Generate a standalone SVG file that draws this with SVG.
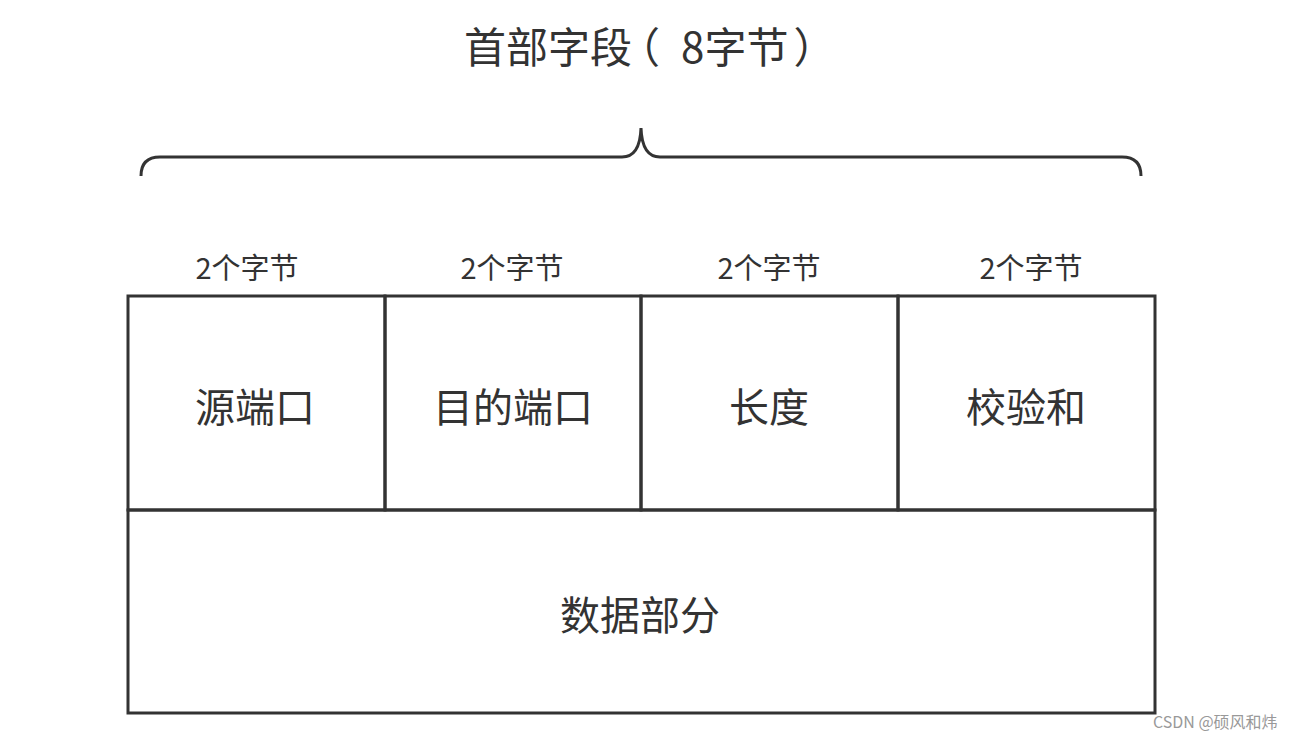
<svg xmlns="http://www.w3.org/2000/svg" width="1305" height="738" viewBox="0 0 1305 738">
<style>
.t{font-family:"Microsoft YaHei","Noto Sans CJK SC","Noto Sans",sans-serif;fill:#333;text-anchor:middle;dominant-baseline:central}
.b{fill:none;stroke:#333;stroke-width:3}
</style>
<rect width="1305" height="738" fill="#fff"/>
<g id="title">
<text class="t" x="464" y="44" font-size="42" text-anchor="start" style="text-anchor:start" dx="0 0 0 0 -14 21 0 0 5">首部字段（8字节）</text>
</g>
<g id="brace"><path class="b" d="M141,176 Q141,157 160,157 L622,157 Q640,157 641,128 Q642,157 660,157 L1122,157 Q1141,157 1141,176"/></g>
<g id="sizes">
<text class="t" x="247" y="266" font-size="29">2个字节</text>
<text class="t" x="512" y="266" font-size="29">2个字节</text>
<text class="t" x="769" y="266" font-size="29">2个字节</text>
<text class="t" x="1031" y="266" font-size="29">2个字节</text>
</g>
<g id="src"><rect class="b" x="128" y="296" width="257" height="214"/><text class="t" x="255" y="405" font-size="40">源端口</text></g>
<g id="dst"><rect class="b" x="385" y="296" width="256" height="214"/><text class="t" x="513" y="405" font-size="40">目的端口</text></g>
<g id="len"><rect class="b" x="641" y="296" width="257" height="214"/><text class="t" x="769" y="405" font-size="40">长度</text></g>
<g id="sum"><rect class="b" x="898" y="296" width="257" height="214"/><text class="t" x="1026" y="405" font-size="40">校验和</text></g>
<g id="data"><rect class="b" x="128" y="510" width="1027" height="203"/><text class="t" x="640" y="613" font-size="40">数据部分</text></g>
<g id="connectors"></g>
<text x="1153" y="721" font-family="'Microsoft YaHei','Noto Sans CJK SC',sans-serif" font-size="16" fill="#999" dominant-baseline="central">CSDN @硕风和炜</text>
</svg>
